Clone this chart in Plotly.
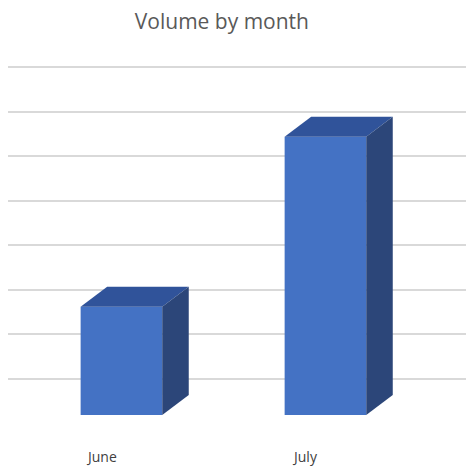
import plotly.graph_objects as go

categories = ["June", "July"]
values = [2.43, 6.25]

W = 0.4    # bar width (category units)
DX = 0.13  # depth offset x
DY = 0.45  # depth offset y

fig = go.Figure()
xs = list(range(len(categories)))
fig.add_trace(go.Bar(x=xs, y=values, width=W, marker=dict(color="#4472C4", line=dict(width=0)),
                     showlegend=False, hoverinfo="skip"))
for i, v in zip(xs, values):
    l, r = i - W / 2, i + W / 2
    fig.add_trace(go.Scatter(x=[l, r, r + DX, l + DX, l], y=[v, v, v + DY, v + DY, v],
                             fill="toself", fillcolor="#30539A", mode="lines",
                             line=dict(width=0, color="#30539A"), showlegend=False, hoverinfo="skip"))
    fig.add_trace(go.Scatter(x=[r, r + DX, r + DX, r, r], y=[0, DY, v + DY, v, 0],
                             fill="toself", fillcolor="#2C4679", mode="lines",
                             line=dict(width=0, color="#2C4679"), showlegend=False, hoverinfo="skip"))
    fig.add_annotation(x=i - 0.1, y=0, text=categories[i], showarrow=False, yanchor="top",
                       yshift=-30, font=dict(size=14, color="#404040", family="Open Sans"))

fig.update_layout(
    width=458, height=466, margin=dict(l=0, r=0, t=42, b=59),
    paper_bgcolor="white", plot_bgcolor="white",
    title=dict(text="Volume by month", x=0.467, xanchor="center", y=0.97, yanchor="middle",
               font=dict(size=21, color="#595959", family="Open Sans")),
    xaxis=dict(range=[-0.556, 1.689], showgrid=False, zeroline=False, showticklabels=False, fixedrange=True),
    yaxis=dict(range=[0, 8.2], tick0=0.81, dtick=1, showgrid=True, gridcolor="#D9D9D9", gridwidth=1.5,
               zeroline=False, showticklabels=False),
)
fig.write_html("out.html")
